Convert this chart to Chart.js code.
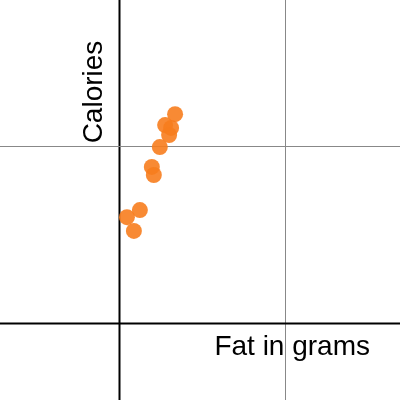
<!DOCTYPE html>
<html>
<head>
<meta charset="utf-8">
<script src="https://cdn.jsdelivr.net/npm/chart.js@4/dist/chart.umd.min.js"></script>
<style>
  html, body { margin: 0; padding: 0; background: #fff; }
  #wrap { width: 400px; height: 400px; }
</style>
</head>
<body>
<div id="wrap"><canvas id="chart"></canvas></div>
<script>
'use strict';

var fatGrams = [16.9, 13.9, 15.7, 15.1, 12.3, 9.9, 10.5, 6.3, 2.4, 4.5];
var calories = [590, 559, 551, 531, 497, 441, 418, 319, 299, 260];
var xGridLines = [0, 50];
var yGridLines = [0, 500];
var xLabel = 'Fat in grams';
var yLabel = 'Calories';

// grid lines run across the whole canvas, like the reference
var fullGrid = {
  id: 'fullGrid',
  beforeDatasetsDraw: function(chart) {
    var ctx = chart.ctx;
    var xs = chart.scales.x, ys = chart.scales.y;
    ctx.save();
    xGridLines.forEach(function(v) {
      var px = Math.round(xs.getPixelForValue(v)) + 0.5;
      ctx.strokeStyle = v === 0 ? '#000' : '#888';
      ctx.lineWidth = v === 0 ? 2 : 1;
      ctx.beginPath(); ctx.moveTo(px, 0); ctx.lineTo(px, chart.height); ctx.stroke();
    });
    yGridLines.forEach(function(v) {
      var py = Math.round(ys.getPixelForValue(v)) + 0.5;
      ctx.strokeStyle = v === 0 ? '#000' : '#888';
      ctx.lineWidth = v === 0 ? 2 : 1;
      ctx.beginPath(); ctx.moveTo(0, py); ctx.lineTo(chart.width, py); ctx.stroke();
    });
    ctx.restore();
  },
  afterDraw: function(chart) {
    var ctx = chart.ctx;
    ctx.save();
    ctx.fillStyle = '#000';
    ctx.font = '28px "Liberation Sans", Arial, sans-serif';
    ctx.textAlign = 'right';
    ctx.fillText(xLabel, 370, 355);
    ctx.translate(102, 92);
    ctx.rotate(-Math.PI / 2);
    ctx.textAlign = 'center';
    ctx.fillText(yLabel, 0, 0);
    ctx.restore();
  }
};

new Chart(document.getElementById('chart'), {
  type: 'scatter',
  data: {
    datasets: [{
      data: fatGrams.map(function(f, i) { return { x: f, y: calories[i] }; }),
      backgroundColor: 'rgba(247,125,30,0.9)',
      borderWidth: 0,
      pointRadius: 8,
      pointHoverRadius: 8
    }]
  },
  options: {
    responsive: true,
    maintainAspectRatio: false,
    animation: false,
    layout: { padding: 0 },
    plugins: { legend: { display: false }, tooltip: { enabled: false } },
    scales: {
      x: {
        type: 'linear', min: -33.4, max: 82.2,
        ticks: { display: false },
        border: { display: false },
        grid: { display: false }
      },
      y: {
        type: 'linear', min: -194.9, max: 889.8,
        ticks: { display: false },
        border: { display: false },
        grid: { display: false }
      }
    }
  },
  plugins: [fullGrid]
});
</script>
</body>
</html>
